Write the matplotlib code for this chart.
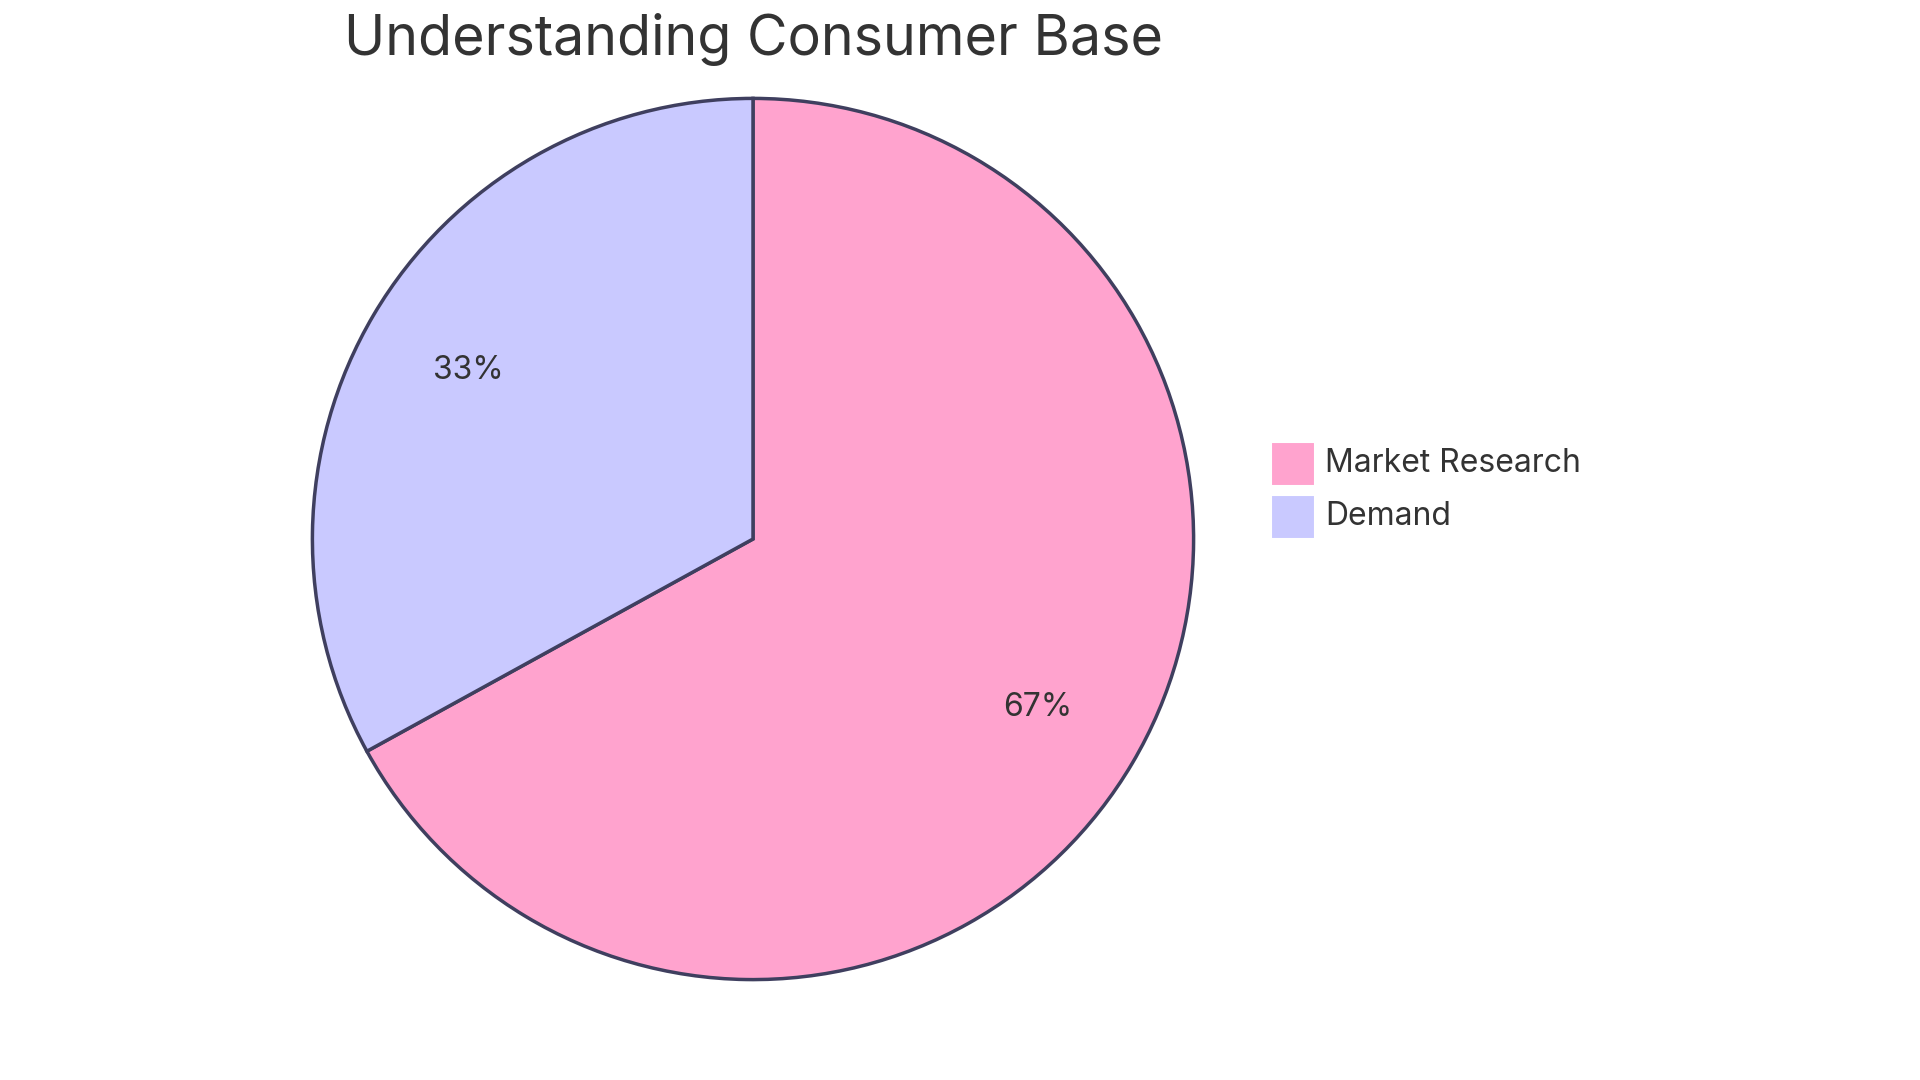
import matplotlib
matplotlib.use("Agg")
import matplotlib.pyplot as plt
from matplotlib.patches import Rectangle

labels = ["Market Research", "Demand"]
values = [67, 33]
colors = ["#FFA3CE", "#C9C9FF"]
title = "Understanding Consumer Base"

plt.rcParams['font.family'] = ['Inter', 'DejaVu Sans']
fig = plt.figure(figsize=(19.2, 10.8), dpi=100)
W, H = 1920, 1080
cx, cy, r = 753, 541, 445
ax = fig.add_axes([(cx - r) / W, (cy - r) / H, 2 * r / W, 2 * r / H])
wedges, texts, autotexts = ax.pie(values, colors=colors, startangle=90, counterclock=False,
       autopct=lambda p: f"{p:.0f}%", pctdistance=0.75,
       wedgeprops=dict(edgecolor="#3f3f5f", linewidth=2.5),
       textprops=dict(fontsize=23, color="#333333"))
ax.set_xlim(-1.01, 1.01); ax.set_ylim(-1.01, 1.01)
ax.set_aspect("equal")
ax.axis("off")

fig.text(cx / W, 1 - 40 / H, title, ha="center", va="center", fontsize=40, color="#333333")

for i, (lab, col) in enumerate(zip(labels, colors)):
    y0 = 1 - (486 + i * 53) / H
    fig.patches.append(Rectangle((1271 / W, y0), 44 / W, 44 / H, transform=fig.transFigure,
                                 facecolor=col, edgecolor="white", linewidth=1.5))
    fig.text(1325 / W, y0 + 22 / H, lab, ha="left", va="center", fontsize=23, color="#333333")

fig.savefig("out.png", dpi=100)
